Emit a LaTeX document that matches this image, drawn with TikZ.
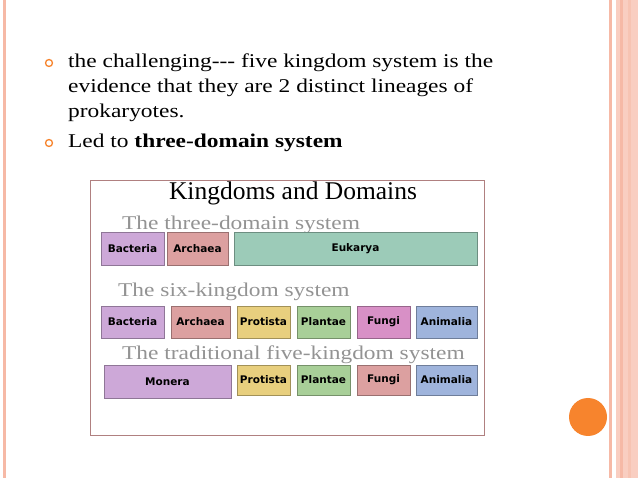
\documentclass[tikz,border=0pt]{standalone}
\usepackage{fontspec}
\setmainfont{Liberation Serif}
\newfontfamily\wide[FakeStretch=1.2]{Liberation Serif}
\newfontfamily\boxfont{DejaVu Sans}
\begin{document}
\begin{tikzpicture}[x=1pt,y=-1pt,
  kb/.style={draw=#1!70!black,fill=#1,line width=0.8pt,inner sep=0pt,font=\boxfont\bfseries\fontsize{10.5}{12}\selectfont},
  sub/.style={text=gray!85,font=\wide\fontsize{19.5}{21}\selectfont,inner sep=0pt,anchor=west},
  body/.style={font=\wide\fontsize{19.5}{25}\selectfont,anchor=west,inner sep=0pt}]
\definecolor{cpur}{HTML}{CDA8D8}
\definecolor{cred}{HTML}{DCA0A0}
\definecolor{cgre}{HTML}{9CCBB8}
\definecolor{cyel}{HTML}{E8CF7E}
\definecolor{cpla}{HTML}{A8CF98}
\definecolor{cmag}{HTML}{D890C6}
\definecolor{cblu}{HTML}{9FB4DC}
\definecolor{salm}{HTML}{F6B9A6}
\definecolor{orng}{HTML}{F7842D}
\useasboundingbox (0,0) rectangle (638,478);
\fill[white] (0,0) rectangle (638,478);
% borders
\fill[salm] (3,0) rectangle (6,478);
\fill[salm] (609,0) rectangle (612,478);
\fill[salm!70] (616,0) rectangle (638,478);
\fill[salm] (620,0) rectangle (623,478);
\fill[salm!85] (628,0) rectangle (631,478);
\node[circle,fill=orng,minimum size=38pt,inner sep=0pt] (dot) at (588,417) {};
% bullets
\node[circle,draw=orng,line width=1.3pt,minimum size=7pt,inner sep=0pt] (b1) at (49,63) {};
\node[circle,draw=orng,line width=1.3pt,minimum size=7pt,inner sep=0pt] (b2) at (49,143) {};
\node[body] (t1) at (68,63) {the challenging{-}{-}{-} five kingdom system is the};
\node[body] (t2) at (68,88) {evidence that they are 2 distinct lineages of};
\node[body] (t3) at (68,113) {prokaryotes.};
\node[body] (t4) at (68,143) {Led to \textbf{three-domain system}};
% diagram frame
\draw[draw=cred!80!black,line width=0.8pt] (90,180) rectangle (484,435);
\node[font=\fontsize{25.5}{27}\selectfont,inner sep=0pt] (title) at (293,193) {Kingdoms and Domains};
\node[sub] (s1) at (122,225) {The three-domain system};
\node[sub] (s2) at (118,292) {The six-kingdom system};
\node[sub] (s3) at (122,355) {The traditional five-kingdom system};
% row 1
\node[kb=cpur,minimum width=63pt,minimum height=33pt] (r1a) at (132.5,248.5) {Bacteria};
\node[kb=cred,minimum width=61pt,minimum height=33pt] (r1b) at (197.5,248.5) {Archaea};
\node[kb=cgre,minimum width=243pt,minimum height=33pt] (r1c) at (355.5,248.5) {Eukarya};
% row 2
\node[kb=cpur,minimum width=63pt,minimum height=32pt] (r2a) at (132.5,322) {Bacteria};
\node[kb=cred,minimum width=59pt,minimum height=32pt] (r2b) at (200.5,322) {Archaea};
\node[kb=cyel,minimum width=53pt,minimum height=32pt] (r2c) at (263.5,322) {Protista};
\node[kb=cpla,minimum width=53pt,minimum height=32pt] (r2d) at (323.5,322) {Plantae};
\node[kb=cmag,minimum width=53pt,minimum height=32pt] (r2e) at (383.5,322) {Fungi};
\node[kb=cblu,minimum width=61pt,minimum height=32pt] (r2f) at (446.5,322) {Animalia};
% row 3
\node[kb=cpur,minimum width=127pt,minimum height=33pt] (r3a) at (167.5,381.5) {Monera};
\node[kb=cyel,minimum width=53pt,minimum height=30pt] (r3c) at (263.5,380) {Protista};
\node[kb=cpla,minimum width=53pt,minimum height=30pt] (r3d) at (323.5,380) {Plantae};
\node[kb=cred,minimum width=53pt,minimum height=30pt] (r3e) at (383.5,380) {Fungi};
\node[kb=cblu,minimum width=61pt,minimum height=30pt] (r3f) at (446.5,380) {Animalia};
\end{tikzpicture}
\end{document}
